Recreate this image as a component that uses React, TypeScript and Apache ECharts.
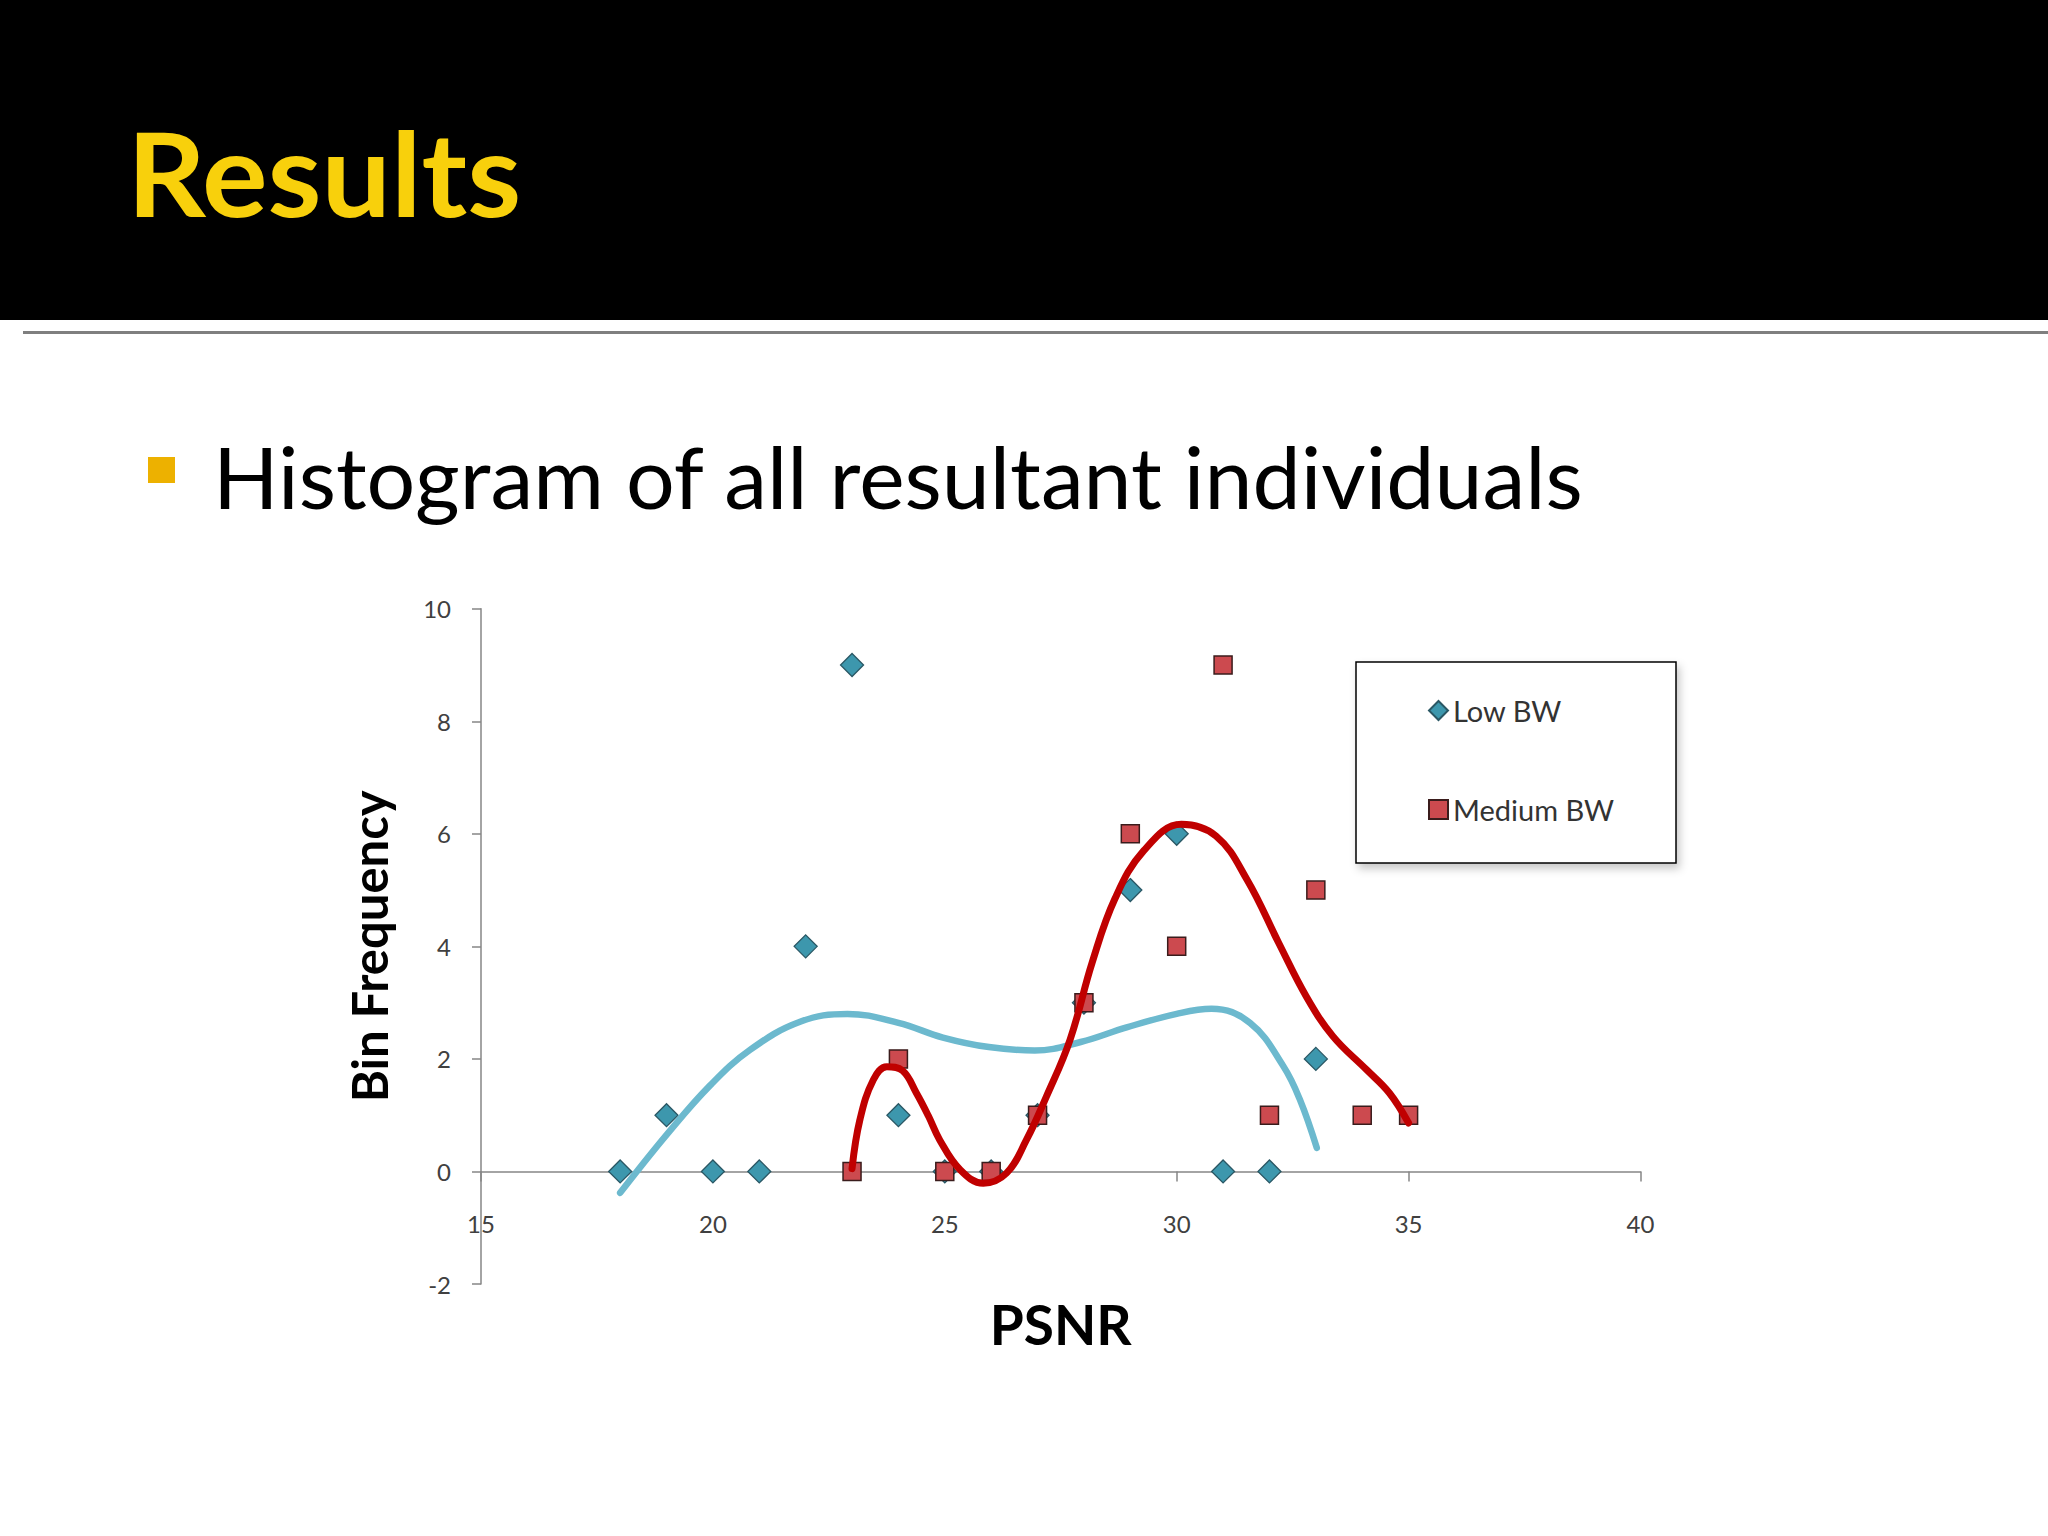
import React, { useEffect, useRef } from "react";
import * as echarts from "echarts";

// ---- data ----
const lowX = [18, 19, 20, 21, 22, 23, 24, 25, 26, 27, 28, 29, 30, 31, 32, 33];
const lowY = [0, 1, 0, 0, 4, 9, 1, 0, 0, 1, 3, 5, 6, 0, 0, 2];
const medX = [23, 24, 25, 26, 27, 28, 29, 30, 31, 32, 33, 34, 35];
const medY = [0, 2, 0, 0, 1, 3, 6, 4, 9, 1, 5, 1, 1];

// trend lines
const lowTrendX = [18.0, 19.0, 19.94, 20.8, 21.88, 22.9, 24.0, 24.96, 25.95, 26.94, 27.93, 28.92, 30.0, 30.75, 31.58, 32.3, 32.66, 33.02];
const lowTrendY = [-0.38, 0.65, 1.53, 2.16, 2.66, 2.8, 2.64, 2.38, 2.21, 2.15, 2.3, 2.56, 2.8, 2.89, 2.64, 1.87, 1.27, 0.42];
const medTrendX = [23.0, 23.17, 23.46, 23.75, 24.09, 24.39, 24.65, 24.89, 25.33, 25.83, 26.33, 26.76, 27.19, 27.7, 28.18, 28.67, 29.29, 30.1, 30.85, 31.52, 32.2, 32.8, 33.37, 34.09, 34.59, 35.0];
const medTrendY = [0.05, 0.92, 1.63, 1.86, 1.79, 1.39, 0.98, 0.56, 0.03, -0.21, -0.03, 0.56, 1.33, 2.34, 3.72, 4.85, 5.7, 6.17, 5.96, 5.18, 4.06, 3.1, 2.4, 1.81, 1.39, 0.86];

const xTicks = { min: 15, max: 40, interval: 5 };
const yTicks = { min: -2, max: 10, interval: 2 };

const seriesNames = ["Low BW", "Medium BW"];
const slideTitle = "Results";
const bulletText = "Histogram of all resultant individuals";
const xName = "PSNR";
const yName = "Bin Frequency";

const FONT = "Lato, 'Open Sans', sans-serif";

export default function App() {
  const ref = useRef<HTMLDivElement>(null);
  useEffect(() => {
    if (!ref.current) return;
    const chart = echarts.init(ref.current, undefined, { renderer: "svg" });
    const axisColor = "#868686";
    chart.setOption({
      animation: false,
      backgroundColor: "#ffffff",
      textStyle: { fontFamily: FONT },
      grid: { left: 481, right: 407.5, top: 608.7, bottom: 252, containLabel: false },
      xAxis: {
        type: "value",
        min: xTicks.min,
        max: xTicks.max,
        interval: xTicks.interval,
        name: xName,
        nameLocation: "middle",
        nameGap: 125,
        offset: -112.4,
        nameTextStyle: { fontFamily: FONT, fontWeight: "bold", fontSize: 55, color: "#000" },
        axisLine: { show: true, onZero: false, lineStyle: { color: axisColor, width: 1.5 } },
        axisTick: { show: true, inside: false, length: 10, lineStyle: { color: axisColor, width: 1.5 } },
        axisLabel: { margin: 40, fontSize: 24, color: "#404040", fontFamily: FONT },
        splitLine: { show: false },
      },
      yAxis: {
        type: "value",
        min: yTicks.min,
        max: yTicks.max,
        interval: yTicks.interval,
        name: yName,
        nameLocation: "middle",
        nameGap: 88,
        nameTextStyle: { fontFamily: FONT, fontWeight: "bold", fontSize: 49, color: "#000" },
        axisLine: { show: true, onZero: false, lineStyle: { color: axisColor, width: 1.5 } },
        axisTick: { show: true, inside: false, length: 9, lineStyle: { color: axisColor, width: 1.5 } },
        axisLabel: { margin: 30, fontSize: 24, color: "#404040", fontFamily: FONT },
        splitLine: { show: false },
      },
      legend: {
        left: 1428,
        top: 696,
        orient: "vertical",
        itemWidth: 19,
        itemHeight: 19,
        itemGap: 70,
        selectedMode: false,
        padding: 0,
        textStyle: { fontFamily: FONT, fontSize: 29, color: "#333333" },
        data: [
          { name: seriesNames[0], icon: "diamond" },
          { name: seriesNames[1], icon: "rect" },
        ],
        z: 10,
      },
      graphic: [
        { type: "rect", shape: { x: 0, y: 0, width: 2048, height: 320 }, style: { fill: "#000000" }, z: 0 },
        { type: "line", shape: { x1: 23, y1: 332.5, x2: 2048, y2: 332.5 }, style: { stroke: "#7F7F7F", lineWidth: 3 }, z: 0 },
        {
          type: "text",
          x: 127,
          y: 172,
          scaleX: 1.06,
          style: { text: slideTitle, fill: "#F8D00C", fontFamily: FONT, fontWeight: "bold", fontSize: 116, textAlign: "left", textVerticalAlign: "middle" },
          z: 1,
        },
        { type: "rect", shape: { x: 148, y: 457, width: 27, height: 26 }, style: { fill: "#EDB100" }, z: 1 },
        {
          type: "text",
          x: 213,
          y: 475.5,
          style: { text: bulletText, fill: "#000000", fontFamily: FONT, fontSize: 86, textAlign: "left", textVerticalAlign: "middle" },
          z: 1,
        },
        {
          type: "rect",
          shape: { x: 1356, y: 662, width: 320, height: 201 },
          style: { fill: "#ffffff", stroke: "#000000", lineWidth: 1.5, shadowBlur: 8, shadowColor: "rgba(0,0,0,0.22)", shadowOffsetX: 3, shadowOffsetY: 5 },
          z: 5,
        },
      ],
      series: [
        {
          name: seriesNames[0],
          type: "scatter",
          symbol: "diamond",
          symbolSize: 23,
          itemStyle: { color: "#3D97AD", borderColor: "#2A5764", borderWidth: 1.3, opacity: 1 },
          data: lowX.map((x, i) => [x, lowY[i]]),
          z: 2,
        },
        {
          name: seriesNames[1],
          type: "scatter",
          symbol: "rect",
          symbolSize: 18,
          itemStyle: { color: "#CC4A4F", borderColor: "#3A1C1C", borderWidth: 1.5, opacity: 1 },
          data: medX.map((x, i) => [x, medY[i]]),
          z: 3,
        },
        {
          name: "Low BW trend",
          type: "line",
          smooth: 0.4,
          showSymbol: false,
          symbol: "none",
          lineStyle: { color: "#6CB9CE", width: 6.5, cap: "round" },
          data: lowTrendX.map((x, i) => [x, lowTrendY[i]]),
          z: 4,
        },
        {
          name: "Medium BW trend",
          type: "line",
          smooth: 0.4,
          showSymbol: false,
          symbol: "none",
          lineStyle: { color: "#C00000", width: 7, cap: "round" },
          data: medTrendX.map((x, i) => [x, medTrendY[i]]),
          z: 4,
        },
      ],
    });
    return () => chart.dispose();
  }, []);
  return <div ref={ref} style={{ position: "fixed", left: 0, top: 0, width: 2048, height: 1536 }} />;
}
